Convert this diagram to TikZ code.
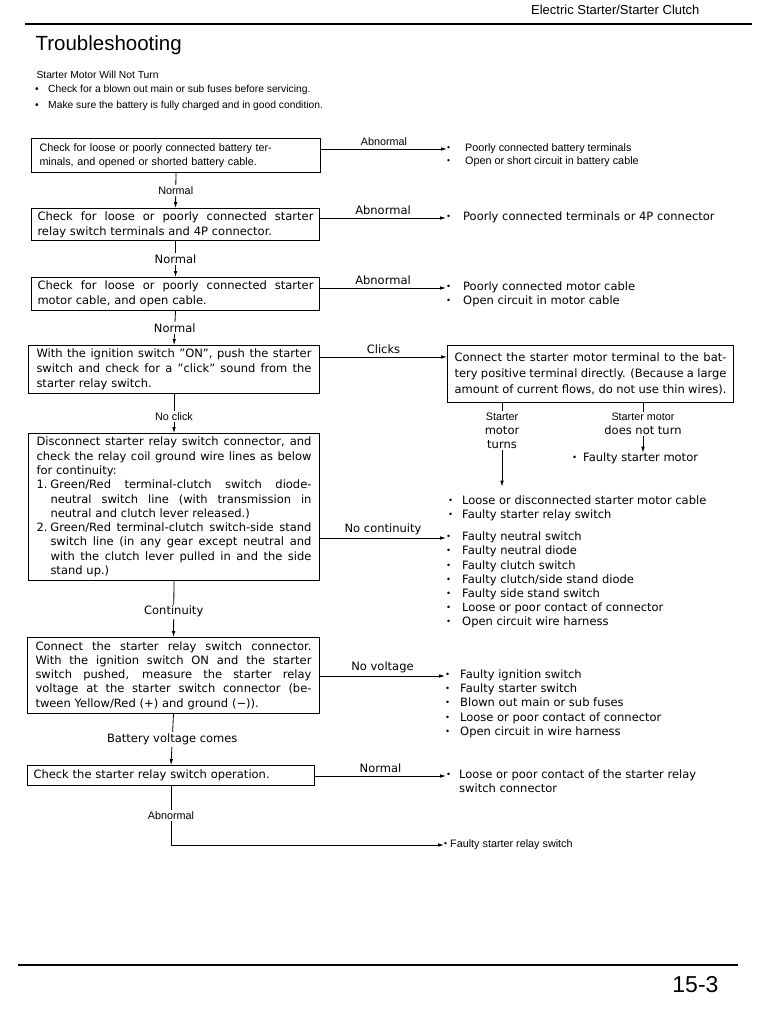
\documentclass[tikz,border=0pt]{standalone}
\usepackage{fontspec}
\setmainfont{Liberation Sans}
\newfontfamily\oldf{DejaVu Sans}
\usetikzlibrary{arrows.meta}
\newcommand\jl[1]{\makebox[\hsize][s]{\spaceskip=0pt\xspaceskip=0pt #1}\\}
\newcommand\jx[1]{\makebox[\hsize][s]{\spaceskip=0pt\xspaceskip=0pt #1}}
\newcommand\nl[2]{\makebox[14pt][l]{#1}\makebox[\dimexpr\hsize-14pt\relax][s]{\spaceskip=0pt\xspaceskip=0pt #2}\\}
\newcommand\cl[1]{\hspace*{14pt}\makebox[\dimexpr\hsize-14pt\relax][s]{\spaceskip=0pt\xspaceskip=0pt #1}\\}
\newcommand\dotb[1]{\makebox[#1][l]{\raisebox{0.8pt}{\fontsize{8.5}{8.5}\selectfont\textbullet}}}
\begin{document}
\begin{tikzpicture}[x=1pt,y=-1pt,
  box/.style={draw, line width=1pt, anchor=north west, align=left, inner ysep=2pt},
  of/.style={font=\oldf\fontsize{11.5}{14.3}\selectfont},
  af/.style={font=\fontsize{10.8}{14}\selectfont},
  arr/.style={line width=0.8pt, -{Latex[length=6pt,width=3.6pt]}},
  vl/.style={fill=white, inner sep=1.5pt},
  hl/.style={midway, above, inner sep=2.5pt},
  item/.style={anchor=mid west, inner sep=0pt},
]
\useasboundingbox (0,0) rectangle (768,1024);
% header
\node[anchor=base east, font=\fontsize{13}{15}\selectfont] (hdr) at (703,15) {Electric Starter/Starter Clutch};
\draw[line width=1.8pt] (25,24) -- (752,24);
\node[anchor=base west, font=\fontsize{20.5}{24}\selectfont] (ttl) at (32,51) {Troubleshooting};
\node[anchor=base west, font=\fontsize{10.3}{12}\selectfont] (sub) at (33,79) {Starter Motor Will Not Turn};
\node[anchor=base west, inner sep=0pt, font=\fontsize{10.3}{12}\selectfont] (in1) at (35,93) {\makebox[13pt][l]{\textbullet}Check for a blown out main or sub fuses before servicing.};
\node[anchor=base west, inner sep=0pt, font=\fontsize{10.3}{12}\selectfont] (in2) at (35,109) {\makebox[13pt][l]{\textbullet}Make sure the battery is fully charged and in good condition.};

% boxes
\node[box, af, inner xsep=8pt, text width=273pt, minimum height=34pt] (b1) at (31,138)
  {Check for loose or poorly connected battery ter-\\minals, and opened or shorted battery cable.};
\node[box, of, font=\oldf\fontsize{11.5}{15}\selectfont, inner xsep=6pt, text width=276pt, minimum height=32pt] (b2) at (31,208)
  {\jl{Check for loose or poorly connected starter}relay switch terminals and 4P connector.};
\node[box, of, font=\oldf\fontsize{11.5}{15}\selectfont, inner xsep=6pt, text width=276pt, minimum height=33pt] (b3) at (31,277)
  {\jl{Check for loose or poorly connected starter}motor cable, and open cable.};
\node[box, of, font=\oldf\fontsize{11.5}{15}\selectfont, inner xsep=8pt, text width=275pt, minimum height=48pt] (b4) at (28,345)
  {\jl{With the ignition switch ”ON”, push the starter}\jl{switch and check for a ”click” sound from the}starter relay switch.};
\node[box, of, font=\oldf\fontsize{11.5}{16}\selectfont, inner xsep=7pt, text width=272pt, minimum height=57pt] (b5) at (447,345)
  {\jl{Connect the starter motor terminal to the bat-}\jl{tery positive terminal directly. (Because a large}\jx{amount of current flows, do not use thin wires).}};
\node[box, of, inner xsep=8pt, text width=275pt, minimum height=147pt] (b6) at (28,433)
  {\jl{Disconnect starter relay switch connector, and}\jl{check the relay coil ground wire lines as below}for continuity:\\
   \nl{1.}{Green/Red terminal-clutch switch diode-}\cl{neutral switch line (with transmission in}\hspace*{14pt}neutral and clutch lever released.)\\
   \nl{2.}{Green/Red terminal-clutch switch-side stand}\cl{switch line (in any gear except neutral and}\cl{with the clutch lever pulled in and the side}\hspace*{14pt}stand up.)};
\node[box, of, inner xsep=8pt, text width=276pt, minimum height=76pt] (b7) at (27,637)
  {\jl{Connect the starter relay switch connector.}\jl{With the ignition switch ON and the starter}\jl{switch pushed, measure the starter relay}\jl{voltage at the starter switch connector (be-}tween Yellow/Red (+) and ground (−)).};
\node[box, of, inner xsep=6pt, text width=275pt, minimum height=20pt] (b8) at (27,765)
  {Check the starter relay switch operation.};

% right-hand result lists
\node[item, af] (r1a) at (447,149) {\dotb{18pt}Poorly connected battery terminals};
\node[item, af] (r1b) at (447,162) {\dotb{18pt}Open or short circuit in battery cable};
\node[item, of] (r2) at (446,218) {\dotb{17pt}Poorly connected terminals or 4P connector};
\node[item, of] (r3a) at (446,288) {\dotb{17pt}Poorly connected motor cable};
\node[item, of] (r3b) at (446,302) {\dotb{17pt}Open circuit in motor cable};
\node[item, of] (fsm) at (572,459) {\dotb{11pt}Faulty starter motor};
\node[item, of] (sm1) at (448,502) {\dotb{14pt}Loose or disconnected starter motor cable};
\node[item, of] (sm2) at (448,516) {\dotb{14pt}Faulty starter relay switch};
\node[item, of] (r6a) at (446,538) {\dotb{16pt}Faulty neutral switch};
\node[item, of] (r6b) at (446,552) {\dotb{16pt}Faulty neutral diode};
\node[item, of] (r6c) at (446,566.5) {\dotb{16pt}Faulty clutch switch};
\node[item, of] (r6d) at (446,580.5) {\dotb{16pt}Faulty clutch/side stand diode};
\node[item, of] (r6e) at (446,594.5) {\dotb{16pt}Faulty side stand switch};
\node[item, of] (r6f) at (446,609) {\dotb{16pt}Loose or poor contact of connector};
\node[item, of] (r6g) at (446,623) {\dotb{16pt}Open circuit wire harness};
\node[item, of] (r7a) at (445,676) {\dotb{15pt}Faulty ignition switch};
\node[item, of] (r7b) at (445,690) {\dotb{15pt}Faulty starter switch};
\node[item, of] (r7c) at (445,704) {\dotb{15pt}Blown out main or sub fuses};
\node[item, of] (r7d) at (445,719) {\dotb{15pt}Loose or poor contact of connector};
\node[item, of] (r7e) at (445,733) {\dotb{15pt}Open circuit in wire harness};
\node[item, of] (r8a) at (446,776) {\dotb{13pt}Loose or poor contact of the starter relay};
\node[item, of] (r8b) at (446,790) {\hspace*{13pt}switch connector};
\node[item, af] (r9) at (444,845) {\dotb{6pt}Faulty starter relay switch};

% horizontal connectors
\draw[arr] (r1a.mid west -| b1.east) -- node[hl, af]{Abnormal} (r1a.mid west);
\draw[arr] (r2.mid west -| b2.east) -- node[hl, of]{Abnormal} (r2.mid west);
\draw[arr] (r3a.mid west -| b3.east) -- node[hl, of]{Abnormal} (r3a.mid west);
\coordinate (c4) at ([yshift=-12pt]b4.north east);
\draw[arr] (c4) -- node[hl, of]{Clicks} (c4 -| b5.west);
\draw[arr] (r6a.mid west -| b6.east) -- node[hl, of]{No continuity} (r6a.mid west);
\draw[arr] (r7a.mid west -| b7.east) -- node[hl, of]{No voltage} (r7a.mid west);
\draw[arr] (r8a.mid west -| b8.east) -- node[hl, of]{Normal} (r8a.mid west);

% vertical connectors
\draw[arr] (b1.south) -- node[vl, af]{Normal} (b2.north);
\draw[arr] (b2.south) -- node[vl, of]{Normal} (b3.north);
\draw[arr] (b3.south) -- node[vl, of]{Normal} (b4.north);
\draw[arr] (b4.south) -- node[vl, af, pos=0.58]{No click} (b6.north);
\draw[arr] (b6.south) -- node[vl, of, pos=0.55]{Continuity} (b7.north);
\draw[arr] (b7.south) -- node[vl, of, pos=0.5]{Battery voltage comes} (b8.north);
\coordinate (c8) at (b8.south |- r9.mid west);
\draw[arr] (b8.south) -- node[vl, af, pos=0.5]{Abnormal} (c8) -- (r9.mid west);

% branches below box 5
\coordinate (bL) at ([xshift=55pt]b5.south west);
\coordinate (bR) at ([xshift=196pt]b5.south west);
\draw[arr, shorten >=9pt] (bL) -- node[vl, af, align=center, pos=0.3]{Starter\\{\oldf\fontsize{11.5}{14}\selectfont motor}\\{\oldf\fontsize{11.5}{14}\selectfont turns}} (bL |- sm1.north);
\draw[arr] (bR) -- node[vl, af, align=center, pos=0.42]{Starter motor\\{\oldf\fontsize{11.5}{14}\selectfont does not turn}} (bR |- fsm.north);

% footer
\draw[line width=1.8pt] (18,965) -- (738,965);
\node[anchor=base east, font=\fontsize{23}{26}\selectfont] (pg) at (722,992) {15-3};
\end{tikzpicture}
\end{document}
